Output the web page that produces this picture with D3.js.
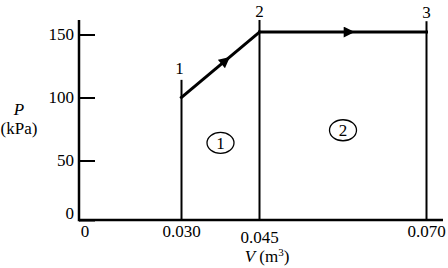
<!DOCTYPE html>
<html>
<head>
<meta charset="utf-8">
<script src="https://cdn.jsdelivr.net/npm/d3@7"></script>
<style>
  body { margin: 0; background: #fff; }
</style>
</head>
<body>
<svg id="chart" width="448" height="268" font-family="Liberation Serif"></svg>
<script>
// process states 1 -> 2 -> 3
const stateNames = ['1', '2', '3'];
const volumes = [0.030, 0.045, 0.070];
const pressures = [100, 152, 152];
// how far the vertical guide lines reach at each state (kPa)
const guideTops = [114, 162, 161];
const yTicks = [0, 50, 100, 150];
const xTicks = [0, 0.030, 0.045, 0.070];
const xTickLabels = ['0', '0.030', '0.045', '0.070'];
// areas under the process paths
const regionNames = ['1', '2'];
const regionV = [0.0375, 0.0575];
const regionP = [64, 74];

const FONT = 'Liberation Serif';
const svg = d3.select('#chart');

// the sketch is not drawn to scale, so use piecewise scales
const x = d3.scaleLinear()
  .domain([0, 0.030, 0.045, 0.070, 0.0755])
  .range([79, 181.5, 259.5, 426.5, 443]);
const y = d3.scaleLinear()
  .domain([0, 50, 100, 150, 162])
  .range([220, 160.5, 97.5, 34.5, 20]);

const defs = svg.append('defs');
defs.append('marker')
  .attr('id', 'arrow')
  .attr('viewBox', '0 -5 10 10')
  .attr('refX', 10)
  .attr('refY', 0)
  .attr('markerUnits', 'userSpaceOnUse')
  .attr('markerWidth', 12)
  .attr('markerHeight', 11)
  .attr('orient', 'auto')
  .append('path')
  .attr('d', 'M0,-5L10,0L0,5Z')
  .attr('fill', '#000');

// y axis with inward ticks
const yAxis = d3.axisLeft(y)
  .tickValues(yTicks)
  .tickSizeInner(-16)
  .tickSizeOuter(0)
  .tickPadding(5)
  .tickFormat(d3.format('d'));
const gy = svg.append('g').attr('transform', `translate(${x(0)},0)`).call(yAxis);
gy.select('.domain').remove();
gy.attr('font-family', FONT).attr('font-size', 17);
gy.selectAll('.tick line').attr('stroke', '#000').attr('stroke-width', 2);
gy.selectAll('.tick text')
  .attr('fill', '#000')
  .attr('dy', d => (d === 0 ? '-0.1em' : '0.32em'));

// x axis labels only
const gx = svg.append('g').attr('class', 'x-labels');
gx.selectAll('text')
  .data(xTicks)
  .join('text')
  .attr('x', d => x(d) + (d === 0 ? 6 : 0))
  .attr('y', d => (d === 0.045 ? 243 : 237))
  .attr('text-anchor', 'middle')
  .attr('font-family', FONT)
  .attr('font-size', 17)
  .text((d, i) => xTickLabels[i]);

// axis lines
svg.append('line')
  .attr('x1', x(0)).attr('x2', x(0))
  .attr('y1', y(0) + 1.25).attr('y2', y(162))
  .attr('stroke', '#000').attr('stroke-width', 2.5);
svg.append('line')
  .attr('x1', x(0)).attr('x2', x(0.0755))
  .attr('y1', y(0)).attr('y2', y(0))
  .attr('stroke', '#000').attr('stroke-width', 2.5);

// vertical guides at each state
svg.append('g').selectAll('line')
  .data(volumes)
  .join('line')
  .attr('x1', d => x(d)).attr('x2', d => x(d))
  .attr('y1', y(0)).attr('y2', (d, i) => y(guideTops[i]))
  .attr('stroke', '#000').attr('stroke-width', 2);

// process path with mid-segment arrows
const pts = volumes.map((v, i) => [x(v), y(pressures[i])]);
const arrowAt = [0.62, 0.57];
for (let i = 0; i < pts.length - 1; i++) {
  const a = pts[i], b = pts[i + 1];
  svg.append('line')
    .attr('x1', a[0]).attr('y1', a[1])
    .attr('x2', b[0]).attr('y2', b[1])
    .attr('stroke', '#000').attr('stroke-width', 3)
    .attr('stroke-linecap', 'square');
  const t = arrowAt[i];
  const m = [a[0] + (b[0] - a[0]) * t, a[1] + (b[1] - a[1]) * t];
  svg.append('line')
    .attr('x1', a[0]).attr('y1', a[1])
    .attr('x2', m[0]).attr('y2', m[1])
    .attr('stroke', 'none')
    .attr('marker-end', 'url(#arrow)');
}

// state numbers above the guides
svg.append('g').selectAll('text')
  .data(stateNames)
  .join('text')
  .attr('x', (d, i) => x(volumes[i]) - (i === 0 ? 2 : 0))
  .attr('y', (d, i) => y(guideTops[i]) - (i === 0 ? 6 : 3))
  .attr('text-anchor', 'middle')
  .attr('font-family', FONT)
  .attr('font-size', 17)
  .text(d => d);

// circled region numbers
const reg = svg.append('g').selectAll('g')
  .data(regionNames)
  .join('g')
  .attr('transform', (d, i) => `translate(${x(regionV[i])},${y(regionP[i])})`);
reg.append('ellipse')
  .attr('rx', 13.5).attr('ry', 10.5)
  .attr('fill', 'none').attr('stroke', '#000').attr('stroke-width', 1.3);
reg.append('text')
  .attr('text-anchor', 'middle')
  .attr('dy', '0.34em')
  .attr('font-family', FONT)
  .attr('font-size', 17)
  .text(d => d);

// axis titles
svg.append('text').attr('x', 19).attr('y', 115).attr('text-anchor', 'middle')
  .attr('font-family', FONT).attr('font-size', 17).attr('font-style', 'italic').text('P');
svg.append('text').attr('x', 19).attr('y', 134).attr('text-anchor', 'middle')
  .attr('font-family', FONT).attr('font-size', 17).text('(kPa)');

const vt = svg.append('text').attr('x', 267).attr('y', 262).attr('text-anchor', 'middle')
  .attr('font-family', FONT).attr('font-size', 17);
vt.append('tspan').attr('font-style', 'italic').text('V');
vt.append('tspan').text(' (m');
vt.append('tspan').attr('dy', -6).attr('font-size', 11).text('3');
vt.append('tspan').attr('dy', 6).text(')');
</script>
</body>
</html>
